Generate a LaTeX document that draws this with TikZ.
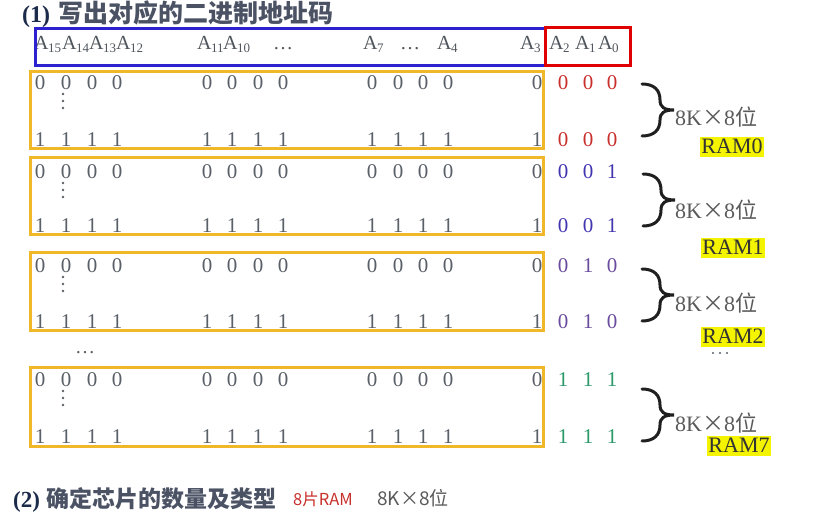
\documentclass[tikz,border=0pt]{standalone}
\usepackage{fontspec}
\setmainfont{Liberation Serif}
\newfontfamily\cjk{Noto Sans CJK SC}
\definecolor{digit}{HTML}{5A6068}
\definecolor{addr}{HTML}{4F555C}
\definecolor{navy}{HTML}{1C2B4A}
\definecolor{ttl}{HTML}{4A5264}
\definecolor{ybox}{HTML}{F0B829}
\definecolor{bbox}{HTML}{2E22D0}
\definecolor{rbox}{HTML}{E00000}
\definecolor{rdig}{HTML}{C8302C}
\definecolor{bdig}{HTML}{4236B0}
\definecolor{pdig}{HTML}{6A4C9E}
\definecolor{gdig}{HTML}{2A9A6A}
\definecolor{hl}{HTML}{F4F400}
\definecolor{lbl}{HTML}{5A5A5A}
\newcommand\Ad[1]{A\kern-0.5pt\raisebox{-3pt}{\fontsize{13}{13}\selectfont #1}}
\newcommand\brc[2]{%
  \draw[bracestyle,shift={(#1,#2)}] (0,-26) .. controls (12,-26) and (18,-20) .. (18,-10)
    .. controls (18,-3) and (22,0) .. (32,0)
    .. controls (22,0) and (18,3) .. (18,10)
    .. controls (18,20) and (12,26) .. (0,26);}
\tikzset{
  dig/.style={inner sep=0pt, text=digit, font=\fontsize{21}{21}\selectfont},
  adr/.style={inner sep=0pt, anchor=base west, text=addr, font=\fontsize{20}{20}\selectfont},
  ybx/.style={draw=ybox, line width=3pt},
  bracestyle/.style={draw=black!88, line width=3pt, line cap=round},
  ram/.style={fill=hl, text=black!80, inner xsep=1pt, inner ysep=0pt, text height=17pt, text depth=3pt, font=\fontsize{22}{22}\selectfont},
  kb/.style={anchor=west, inner sep=0pt, text=lbl, font=\fontsize{22}{22}\selectfont},
  dts/.style={inner sep=0pt, text=digit, text height=2.5pt, text depth=0pt, font=\fontsize{20}{20}\selectfont}
}
\begin{document}
\begin{tikzpicture}[x=1pt,y=-1pt]
\path[use as bounding box] (0,0) rectangle (838,526);
% title
\node[anchor=base west, inner sep=0pt] (title) at (22,23)
  {{\fontsize{24}{24}\selectfont\bfseries\color{navy}(1)}\hspace{8pt}{\cjk\bfseries\fontsize{25}{25}\selectfont\color{ttl}写出对应的二进制地址码}};
% address labels
\foreach \x/\s [count=\i] in {34/15,62/14,89/13,116/12,197/11,223/10,363/7,437/4,520/3,549/2,575/1,598/0}
  \node[adr] (a\i) at (\x,50) {\Ad{\s}};
\node[dts,text=addr] (ad1) at (283,48) {\ldots};
\node[dts,text=addr] (ad2) at (410,48) {\ldots};
\draw[draw=bbox, line width=3pt] (35,29) rectangle (545,66);
\draw[draw=rbox, line width=3pt] (545,28) rectangle (630,66);
% rows
\foreach \r/\yt/\yb in {1/83/140, 2/172/226, 3/266/322, 4/380/437} {
  \foreach \x [count=\i] in {40,66,92,117,207,232,258,283,372,398,423,448,537} {
    \node[dig] (t\r-\i) at (\x,\yt) {0};
    \node[dig] (b\r-\i) at (\x,\yb) {1};
  }
  \foreach \k in {11,18,25} \fill[digit] (63,\yt+\k) circle (1.3pt);
}
% yellow boxes
\draw[ybx] (30,72) rectangle (543,149);
\draw[ybx] (30,158) rectangle (543,235);
\draw[ybx] (30,253) rectangle (543,331);
\draw[ybx] (30,368) rectangle (543,446);
% right digits
\foreach \c/\yt/\yb/\da/\db/\dc [count=\r] in {rdig/83/140/0/0/0, bdig/172/226/0/0/1, pdig/266/322/0/1/0, gdig/380/437/1/1/1} {
  \node[dig,text=\c] (rt\r-1) at (563,\yt) {\da};
  \node[dig,text=\c] (rt\r-2) at (588,\yt) {\db};
  \node[dig,text=\c] (rt\r-3) at (612,\yt) {\dc};
  \node[dig,text=\c] (rb\r-1) at (563,\yb) {\da};
  \node[dig,text=\c] (rb\r-2) at (588,\yb) {\db};
  \node[dig,text=\c] (rb\r-3) at (612,\yb) {\dc};
}
% braces and labels
\brc{642}{110}
\brc{643}{200}
\brc{642}{295}
\brc{642}{415}
\node[kb] (k1) at (675,117) {8K{\cjk ×}8{\cjk 位}};
\node[kb] (k2) at (675,210) {8K{\cjk ×}8{\cjk 位}};
\node[kb] (k3) at (675,303) {8K{\cjk ×}8{\cjk 位}};
\node[kb] (k4) at (675,423) {8K{\cjk ×}8{\cjk 位}};
\node[ram] (r0) at (732,147) {RAM0};
\node[ram] (r1) at (733,248) {RAM1};
\node[ram] (r2) at (733,337) {RAM2};
\node[ram] (r7) at (739,446) {RAM7};
\foreach \x in {713,720,727} \fill[digit] (\x,353) circle (1.2pt);
\node[dts] (md2) at (85,352) {\ldots};
% bottom line
\node[anchor=base west, inner sep=0pt] (sub) at (13,507)
  {{\fontsize{23}{23}\selectfont\bfseries\color{navy}(2)}\hspace{6pt}{\cjk\bfseries\fontsize{23}{23}\selectfont\color{ttl}确定芯片的数量及类型}};
\node[anchor=base west, inner sep=0pt, text=rdig] (cnt) at (293,505) {\cjk\fontsize{16.5}{16.5}\selectfont 8片RAM};
\node[anchor=base west, inner sep=0pt, text=lbl] (typ) at (377,505) {\cjk\fontsize{19}{19}\selectfont 8K×8位};
\end{tikzpicture}
\end{document}
